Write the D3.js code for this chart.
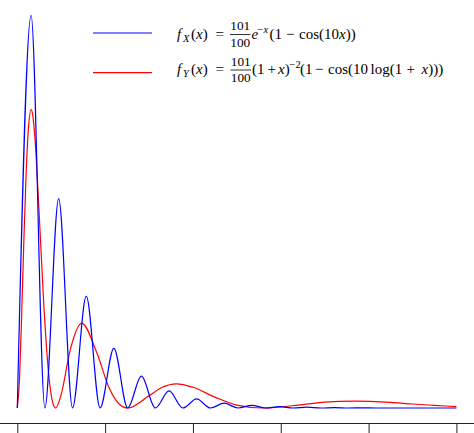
<!DOCTYPE html>
<html>
<head>
<meta charset="utf-8">
<script src="https://cdn.jsdelivr.net/npm/d3@7"></script>
<style>
  body { margin: 0; background: #fff; }
  svg { display: block; }
</style>
</head>
<body>
<div id="chart"></div>
<script>
// values
const blueX = [0, 0.314, 0.628, 0.942, 1.257, 1.571, 1.885, 2.199, 2.513, 2.827, 3.142, 3.456,
  3.770, 4.084, 4.398, 4.712, 5.027, 5.341, 5.655, 5.969, 6.283, 6.597, 6.912, 7.226, 7.540, 7.854, 8.168, 10];
const blueY = [0, 1.476, 0, 0.787, 0, 0.420, 0, 0.224, 0, 0.120, 0, 0.064,
  0, 0.034, 0, 0.018, 0, 0.010, 0, 0.005, 0, 0.003, 0, 0.0015, 0, 0.0008, 0, 0];

const redX = [0, 0.05, 0.1, 0.15, 0.2, 0.25, 0.316, 0.35, 0.4, 0.5, 0.6, 0.7, 0.8, 0.874,
  1.0, 1.2, 1.467, 1.8, 2.1, 2.3, 2.514, 3.0, 3.3, 3.624, 4.0, 4.5, 5.0, 5.59,
  6.5, 7.0, 7.667, 8.5, 9.0, 9.5, 10];
const redY = [0, 0.107, 0.352, 0.632, 0.877, 1.043, 1.122, 1.103, 1.018, 0.724, 0.399, 0.154, 0.025, 0,
  0.051, 0.215, 0.319, 0.212, 0.072, 0.018, 0, 0.046, 0.078, 0.091, 0.078, 0.041, 0.011, 0,
  0.013, 0.022, 0.026, 0.021, 0.015, 0.010, 0.005];

const xTicks = [0, 2, 4, 6, 8, 10];

const width = 474, height = 433;

const svg = d3.select("#chart").append("svg")
  .attr("width", width)
  .attr("height", height);

const x = d3.scaleLinear().domain([0, 10]).range([17.3, 456.4]);
const y = d3.scaleLinear().domain([0, 1.476]).range([408, 15.3]);

// bottom axis: ticks only, labels are cut off in the picture
const axisY = 423.5;
svg.append("g")
  .attr("transform", `translate(0,${axisY})`)
  .call(d3.axisBottom(x).tickValues(xTicks).tickFormat("").tickSize(12).tickSizeOuter(0))
  .call(g => g.select(".domain").remove())
  .call(g => g.selectAll(".tick line").attr("stroke", "#222").attr("stroke-width", 1));

svg.append("line")
  .attr("x1", 0).attr("x2", width)
  .attr("y1", axisY).attr("y2", axisY)
  .attr("stroke", "#222").attr("stroke-width", 1);

const line = d3.line()
  .x(d => x(d[0]))
  .y(d => y(d[1]))
  .curve(d3.curveMonotoneX);

svg.append("path")
  .datum(d3.zip(redX, redY))
  .attr("fill", "none")
  .attr("stroke", "#ff0000")
  .attr("stroke-width", 1.2)
  .attr("d", line);

svg.append("path")
  .datum(d3.zip(blueX, blueY))
  .attr("fill", "none")
  .attr("stroke", "#0000ff")
  .attr("stroke-width", 1.2)
  .attr("d", line);

// legend
const font = "'Liberation Serif', 'Times New Roman', serif";
const mainSize = 15, fracSize = 13.3, smallSize = 10.5;

// lays pieces left to right; "at" pins a piece to an x
function drawFormula(g, pieces, base) {
  let cx = 0;
  for (const p of pieces) {
    if (p.at !== undefined) cx = p.at;
    if (p.frac) {
      const w = p.w;
      g.append("text").attr("font-family", font).attr("font-size", fracSize)
        .attr("x", cx + w / 2).attr("y", base - 8.3).attr("text-anchor", "middle").text(p.frac[0]);
      g.append("text").attr("font-family", font).attr("font-size", fracSize)
        .attr("x", cx + w / 2).attr("y", base + 8.3).attr("text-anchor", "middle").text(p.frac[1]);
      g.append("line")
        .attr("x1", cx).attr("x2", cx + w)
        .attr("y1", base - 4).attr("y2", base - 4)
        .attr("stroke", "#000").attr("stroke-width", 0.8);
      cx += w;
      continue;
    }
    const t = g.append("text")
      .attr("font-family", font)
      .attr("font-size", p.size || mainSize)
      .attr("font-style", p.it ? "italic" : "normal")
      .attr("x", cx)
      .attr("y", base + (p.dy || 0))
      .text(p.t);
    cx += t.node().getComputedTextLength();
  }
}

const legend = svg.append("g");

legend.append("line")
  .attr("x1", 93).attr("x2", 152).attr("y1", 33).attr("y2", 33)
  .attr("stroke", "#0000ff").attr("stroke-width", 1.2);
legend.append("line")
  .attr("x1", 93).attr("x2", 152).attr("y1", 72.7).attr("y2", 72.7)
  .attr("stroke", "#ff0000").attr("stroke-width", 1.2);

const sub = { size: smallSize, it: true, dy: 3 };
const sup = { size: smallSize, dy: -6 };

drawFormula(legend.append("g"), [
  { t: "f", it: true, at: 177 },
  { ...sub, t: "X", at: 183 },
  { t: "(", at: 191 }, { t: "x", it: true }, { t: ")" },
  { t: "=", at: 215.5 },
  { frac: ["101", "100"], at: 230, w: 20.5 },
  { t: "e", it: true, at: 251.5 },
  { ...sup, t: "\u2212", at: 257.5 }, { ...sup, t: "x", it: true },
  { t: "(1", at: 269.5 },
  { t: "\u2212", at: 286 },
  { t: "cos(10", at: 299 }, { t: "x", it: true }, { t: "))" }
], 38.5);

drawFormula(legend.append("g"), [
  { t: "f", it: true, at: 177 },
  { ...sub, t: "Y", at: 183 },
  { t: "(", at: 191 }, { t: "x", it: true }, { t: ")" },
  { t: "=", at: 215.5 },
  { frac: ["101", "100"], at: 230.5, w: 20.5 },
  { t: "(1", at: 252 },
  { t: "+", at: 267.5 },
  { t: "x", it: true, at: 278 }, { t: ")" },
  { ...sup, t: "\u22122", at: 289.5 },
  { t: "(1", at: 300 },
  { t: "\u2212", at: 315 },
  { t: "cos(10", at: 328 },
  { t: "log(1", at: 370.5 },
  { t: "+", at: 406.5 },
  { t: "x", it: true, at: 421.5 }, { t: ")))" }
], 74);
</script>
</body>
</html>
